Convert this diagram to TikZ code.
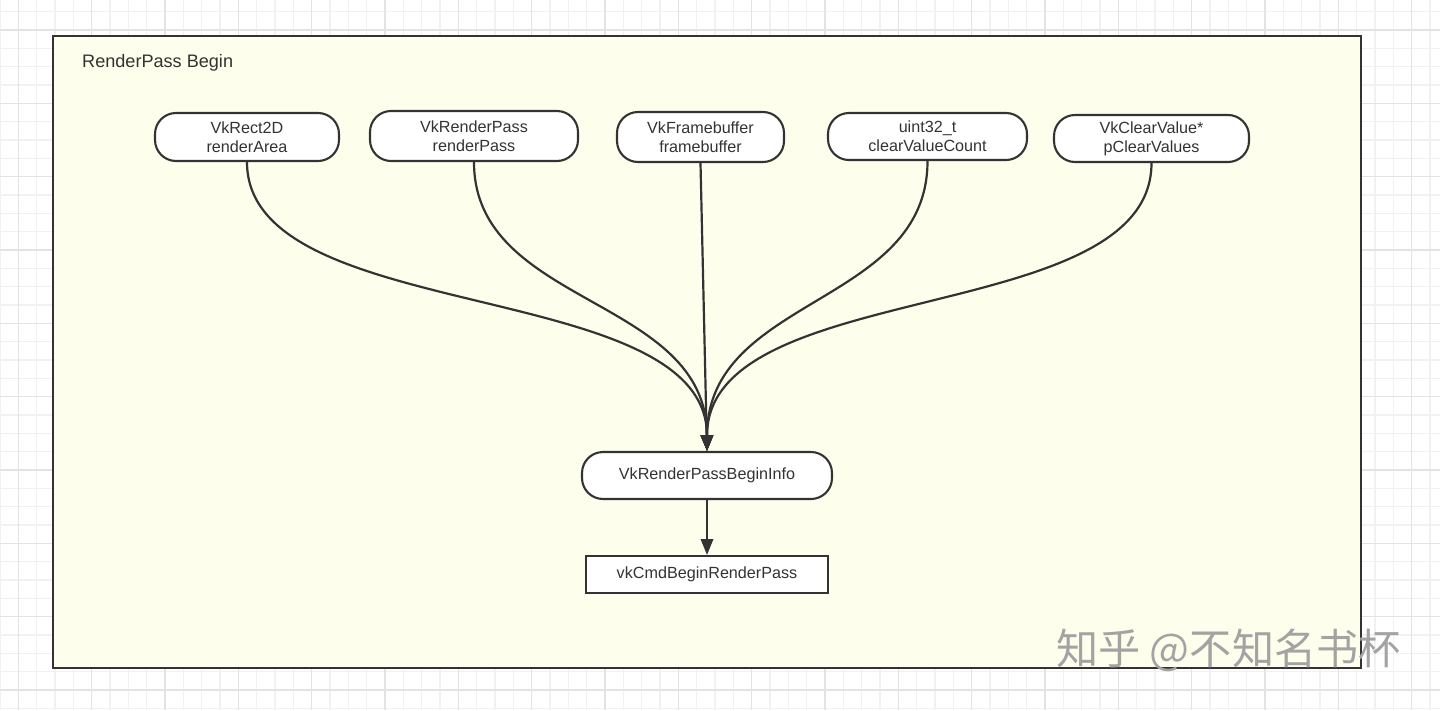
\documentclass[tikz,border=0pt]{standalone}
\usepackage{fontspec}
\setmainfont{Liberation Sans}
\newfontfamily\cjkfont{Noto Sans CJK SC}
\usetikzlibrary{arrows.meta}
\definecolor{Paper}{HTML}{FFFFFF}
\definecolor{GridMinor}{HTML}{F1F1F1}
\definecolor{GridMajor}{HTML}{E3E3E3}
\definecolor{Panel}{HTML}{FEFEEC}
\definecolor{Ink}{HTML}{333333}
\definecolor{Mark}{HTML}{A3A3A3}

\begin{document}
\begin{tikzpicture}[
    x=0.02cm, y=-0.02cm,
    font=\fontsize{9.2}{10.8}\selectfont,
    text=Ink,
    field/.style={
        rounded corners=0.42cm,
        draw=Ink,
        line width=1.2pt,
        fill=white,
        align=center,
        inner sep=2pt
    },
    callbox/.style={
        draw=Ink,
        line width=1.2pt,
        fill=white,
        align=center,
        inner sep=2pt
    },
    arrow/.style={
        -{Triangle[length=9pt,width=7pt]},
        line width=1.25pt,
        draw=Ink
    }
]

% Background grid
\useasboundingbox (0,0) rectangle (1440,710);
\fill[Paper] (0,0) rectangle (1440,710);
\foreach \i in {0,...,78}
    \draw[GridMinor, line width=0.6pt] (\i*18.333,0) -- (\i*18.333,710);
\foreach \j in {0,...,38}
    \draw[GridMinor, line width=0.6pt] (0,11.667+\j*18.333) -- (1440,11.667+\j*18.333);
\foreach \i in {1,5,...,77}
    \draw[GridMajor, line width=0.7pt] (\i*18.333,0) -- (\i*18.333,710);
\foreach \j in {0,...,9}
    \draw[GridMajor, line width=0.7pt] (0,30+\j*73.333) -- (1440,30+\j*73.333);

% Panel
\draw[Ink, fill=Panel, line width=1.3pt] (53,36) rectangle (1361,668);
\node[anchor=west, font=\fontsize{10.3}{12}\selectfont] (title) at (76,62.5) {RenderPass Begin};

% Fields
\node[field, minimum width=3.68cm, minimum height=0.96cm] (area) at (247,137)
{VkRect2D\\renderArea};
\node[field, minimum width=4.16cm, minimum height=1.0cm] (pass) at (474,136)
{VkRenderPass\\renderPass};
\node[field, minimum width=3.34cm, minimum height=1.0cm] (fb) at (700.5,137)
{VkFramebuffer\\framebuffer};
\node[field, minimum width=3.98cm, minimum height=0.94cm] (count) at (927.5,136.5)
{uint32\_t\\clearValueCount};
\node[field, minimum width=3.9cm, minimum height=0.94cm] (clear) at (1151.5,138.5)
{VkClearValue*\\pClearValues};

% Info struct and call
\node[field, minimum width=5.0cm, minimum height=0.94cm] (info) at (707,475.5)
{VkRenderPassBeginInfo};
\node[callbox, minimum width=4.84cm, minimum height=0.74cm] (cmd) at (707,574.5)
{vkCmdBeginRenderPass};

% Connectors
\draw[arrow] (area.south) .. controls +(0,165) and +(0,-175) .. (info.north);
\draw[arrow] (pass.south) .. controls +(0,145) and +(0,-155) .. (info.north);
\draw[arrow] (fb.south) -- (info.north);
\draw[arrow] (count.south) .. controls +(0,145) and +(0,-155) .. (info.north);
\draw[arrow] (clear.south) .. controls +(0,165) and +(0,-175) .. (info.north);
\draw[arrow] (info.south) -- (cmd.north);

% Watermark
\node[anchor=west, text=Mark, font=\cjkfont\fontsize{24}{24}\selectfont] (mark) at (1050,650)
{知乎 @不知名书杯};

\end{tikzpicture}
\end{document}
